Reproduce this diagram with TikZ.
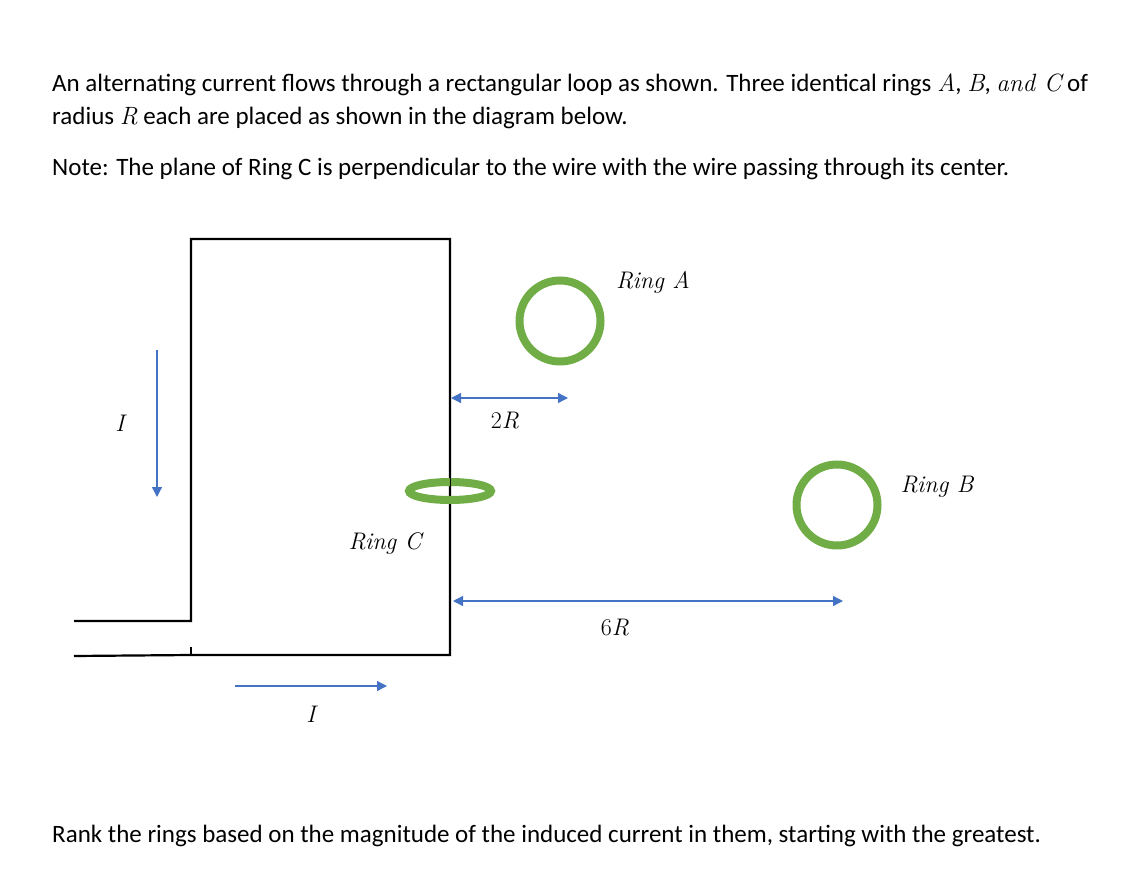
\documentclass[tikz,border=0pt]{standalone}
\usepackage{fontspec}
\setmainfont{Carlito}
\usetikzlibrary{arrows.meta}
\definecolor{ablue}{HTML}{4472C4}
\definecolor{rgreen}{HTML}{70AD47}
\newfontfamily\mathlike{Latin Modern Roman}
\newcommand{\mi}[1]{{\mathlike\itshape #1}}
\tikzset{
  wire/.style={line width=2.2pt,black},
  blarrow/.style={ablue,line width=1.3pt,-{Triangle[length=10pt,width=10pt]}},
  dblarrow/.style={ablue,line width=1.3pt,{Triangle[length=10pt,width=10pt]}-{Triangle[length=10pt,width=10pt]}},
  ring/.style={rgreen,line width=8pt},
  txt/.style={anchor=base west,inner sep=0pt,font=\fontsize{25}{29}\selectfont},
  lab/.style={inner sep=0pt,font=\fontsize{24}{28}\selectfont\mathlike\itshape}
}
\begin{document}
\begin{tikzpicture}[x=1pt,y=-1pt]
\useasboundingbox (0,0) rectangle (1148,896);
\node[txt] (t1) at (52,92) {An alternating current flows through a rectangular loop as shown. Three identical rings \mi{A}, \mi{B}, \mi{and C} of};
\node[txt] (t2) at (52,125) {radius \mi{R} each are placed as shown in the diagram below.};
\node[txt] (t3) at (52,176) {Note: The plane of Ring C is perpendicular to the wire with the wire passing through its center.};
\node[txt] (t4) at (52,842) {Rank the rings based on the magnitude of the induced current in them, starting with the greatest.};
% loop
\coordinate (lt) at (191,239);
\coordinate (rt) at (450,239);
\coordinate (rb) at (450,655);
\coordinate (lb) at (191,655);
\coordinate (lg) at (191,621);
\coordinate (lg2) at (191,647);
\coordinate (w1) at (74,621);
\coordinate (w2) at (74,656);
\draw[wire] (w1) -- (lg) -- (lt) -- (rt) -- (rb) -- (lb) -- (w2);
\draw[wire] (lb) -- (lg2);
% rings
\draw[ring] (560,321) circle (40.5);
\draw[ring] (837,505) circle (40.5);
\draw[ring] (450,491) ellipse (41 and 9);
\draw[black,line width=1pt] (450,478) -- (450,492);
% arrows
\coordinate (a1) at (157,350); \coordinate (a2) at (157,497);
\draw[blarrow] (a1) -- (a2);
\coordinate (b1) at (235,686); \coordinate (b2) at (387,686);
\draw[blarrow] (b1) -- (b2);
\coordinate (c1) at (451,398); \coordinate (c2) at (568,398);
\draw[dblarrow] (c1) -- (c2);
\coordinate (d1) at (453,601); \coordinate (d2) at (843,601);
\draw[dblarrow] (d1) -- (d2);
% labels
\node[lab] (li1) at (120,423) {I};
\node[lab] (li2) at (311,714) {I};
\node[lab] (l2r) at (505,421) {\upshape 2\itshape R};
\node[lab] (l6r) at (615,628) {\upshape 6\itshape R};
\node[lab] (lra) at (653,282) {Ring A};
\node[lab] (lrb) at (937,487) {Ring B};
\node[lab] (lrc) at (385,543) {Ring C};
\end{tikzpicture}
\end{document}
